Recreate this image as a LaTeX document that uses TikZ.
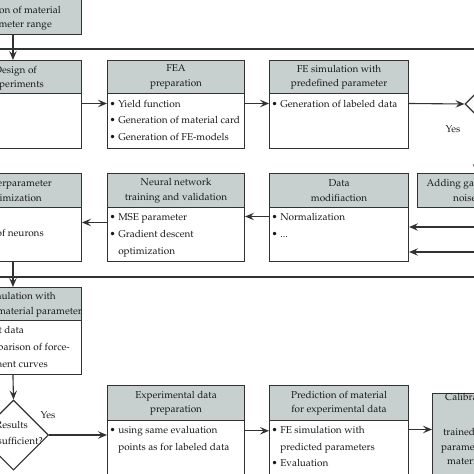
\documentclass[tikz,border=0pt]{standalone}
\usepackage[T1]{fontenc}
\usepackage{mathpazo}
\usetikzlibrary{arrows.meta,shapes.geometric}
\definecolor{hdr}{RGB}{199,208,206}
\definecolor{ln}{RGB}{50,50,50}
\definecolor{tx}{RGB}{25,25,25}
\tikzset{
  hbox/.style={draw=ln, line width=1.1pt, fill=hdr, inner sep=0pt, align=center, text=tx},
  bbox/.style={draw=ln, line width=1.1pt, fill=white, inner sep=0pt},
  arr/.style={draw=ln, line width=1.1pt, -{Stealth[length=9pt,width=7.5pt,inset=3.5pt]}},
  link/.style={draw=ln, line width=1.1pt},
  lt/.style={inner sep=0pt, anchor=base east, text=tx},
  rt/.style={inner sep=0pt, anchor=base west, text=tx},
  dia/.style={diamond, draw=ln, line width=1.1pt, fill=white, inner sep=0pt, minimum width=70pt, minimum height=70pt},
}
\begin{document}
\begin{tikzpicture}[x=1pt,y=-1pt,font=\fontsize{10}{14.5}\selectfont]
\useasboundingbox (0,0) rectangle (474,474);
\clip (0,0) rectangle (474,474);

% long feedback lines
\coordinate (l1a) at (-5,49);
\coordinate (l1b) at (480,49);
\coordinate (l2a) at (-5,277);
\coordinate (l2b) at (480,277);
\draw[link] (l1a) -- (l1b);
\draw[link] (l2a) -- (l2b);

% ---------- left column ----------
\node[hbox, anchor=north east, minimum width=137, minimum height=54] (top) at (82,-20) {};
\node[lt] (top1) at (61,13) {Definition of material};
\node[lt] (top2) at (52,27) {parameter range};

\node[hbox, anchor=north east, minimum width=137, minimum height=33] (desH) at (82,60) {};
\node[bbox, anchor=north east, minimum width=137, minimum height=55] (desB) at (82,93) {};
\node[lt] (des1) at (37,73) {Design of};
\node[lt] (des2) at (44,87) {experiments};

\node[hbox, anchor=north east, minimum width=137, minimum height=34] (hypH) at (82,173) {};
\node[bbox, anchor=north east, minimum width=137, minimum height=54] (hypB) at (82,207) {};
\node[lt] (hyp1) at (52,186) {Hyperparameter};
\node[lt] (hyp2) at (42,201) {optimization};
\node[lt] (hyp3) at (44,236) {\textbullet\ Number of neurons};

\node[hbox, anchor=north east, minimum width=137, minimum height=33] (simH) at (82,287) {};
\node[bbox, anchor=north east, minimum width=137, minimum height=54] (simB) at (82,320) {};
\node[lt] (sim1) at (56,299) {FE simulation with};
\node[lt] (sim2) at (82,314) {trained material parameter};
\node[lt] (sim3) at (24,333) {\textbullet\ Test data};
\node[lt] (sim4) at (70,350) {\textbullet\ Comparison of force-};
\node[lt] (sim5) at (48,367) {displacement curves};

\node[dia] (res) at (13.5,435) {};
\node[lt] (res1) at (28,428) {Results};
\node[lt] (res2) at (43,444) {sufficient?};
\node[inner sep=0pt, text=tx] (yes1) at (48,415) {Yes};

% ---------- second column ----------
\node[hbox, anchor=north west, minimum width=137, minimum height=33] (feaH) at (107,60) {FEA\\preparation};
\node[bbox, anchor=north west, minimum width=137, minimum height=55] (feaB) at (107,93) {};
\node[rt] (fea1) at (109.5,107) {\textbullet\ Yield function};
\node[rt] (fea2) at (109.5,123.5) {\textbullet\ Generation of material card};
\node[rt] (fea3) at (109.5,140) {\textbullet\ Generation of FE-models};

\node[hbox, anchor=north west, minimum width=137, minimum height=34] (nnH) at (107,173) {Neural network\\training and validation};
\node[bbox, anchor=north west, minimum width=137, minimum height=54] (nnB) at (107,207) {};
\node[rt] (nn1) at (109.5,220) {\textbullet\ MSE parameter};
\node[rt] (nn2) at (109.5,237) {\textbullet\ Gradient descent};
\node[rt] (nn3) at (109.5,254) {\phantom{\textbullet}\ optimization};

\node[hbox, anchor=north west, minimum width=137, minimum height=35] (expH) at (107,385) {Experimental data\\preparation};
\node[bbox, anchor=north west, minimum width=137, minimum height=70] (expB) at (107,420) {};
\node[rt] (exp1) at (109.5,433) {\textbullet\ using same evaluation};
\node[rt] (exp2) at (109.5,450) {\phantom{\textbullet}\ points as for labeled data};

% ---------- third column ----------
\node[hbox, anchor=north west, minimum width=139, minimum height=33] (fesH) at (269,60) {FE simulation with\\predefined parameter};
\node[bbox, anchor=north west, minimum width=139, minimum height=55] (fesB) at (269,93) {};
\node[rt] (fes1) at (271.5,107) {\textbullet\ Generation of labeled data};

\node[hbox, anchor=north west, minimum width=139, minimum height=34] (dmH) at (269,173) {Data\\modifiaction};
\node[bbox, anchor=north west, minimum width=139, minimum height=54] (dmB) at (269,207) {};
\node[rt] (dm1) at (271.5,220) {\textbullet\ Normalization};
\node[rt] (dm2) at (271.5,237.5) {\textbullet\ ...};

\node[hbox, anchor=north west, minimum width=139, minimum height=35] (predH) at (269,385) {Prediction of material\\for experimental data};
\node[bbox, anchor=north west, minimum width=139, minimum height=70] (predB) at (269,420) {};
\node[rt] (pred1) at (271.5,433) {\textbullet\ FE simulation with};
\node[rt] (pred2) at (271.5,450) {\phantom{\textbullet}\ predicted parameters};
\node[rt] (pred3) at (271.5,466) {\textbullet\ Evaluation};

% ---------- right column ----------
\node[dia] (dia2) at (500,104) {};
\node[inner sep=0pt, text=tx] (yes2) at (453,129) {Yes};

\node[hbox, anchor=north west, minimum width=100, minimum height=34] (noise) at (417,173) {};
\node[rt] (nz1) at (426.5,186) {Adding gaussian};
\node[rt] (nz2) at (453,201) {noise};

\node[hbox, anchor=north west, minimum width=137, minimum height=100] (cal) at (432,393) {};
\node[rt] (cal1) at (445,400) {Calibration};
\node[rt] (cal2) at (443,435) {trained};
\node[rt] (cal3) at (441,450) {parameters};
\node[rt] (cal4) at (447,464) {material};

% ---------- connectors ----------
\draw[arr] (top.south) -- (desH.north);
\draw[arr] (desB.east |- fea1) -- (feaB.west |- fea1);
\draw[arr] (feaB.east |- fes1) -- (fesB.west |- fes1);
\draw[arr] (fesB.east |- fes1) -- (dia2.west);

\coordinate (nzX) at (476.5,0);
\draw[arr] (nzX |- dia2.south west) -- (nzX |- noise.north);

\coordinate (inA) at (480,227);
\coordinate (inB) at (480,252);
\draw[arr] (inA) -- (dmB.east |- inA);
\draw[arr] (inB) -- (dmB.east |- inB);

\draw[arr] (dmB.west |- dm1) -- (nnB.east |- dm1);
\coordinate (j2) at (0,222.5);
\draw[arr] (nnB.west |- j2) -- (hypB.east |- j2);

\draw[arr] (hypB.south) -- (simH.north);
\draw[arr] (simB.south) -- (res.north);
\draw[arr] (res.east) -- (expB.west |- res.east);
\draw[arr] (expB.east |- exp1) -- (predB.west |- exp1);
\draw[arr] (predB.east |- pred1) -- (cal.west |- pred1);
\end{tikzpicture}
\end{document}
